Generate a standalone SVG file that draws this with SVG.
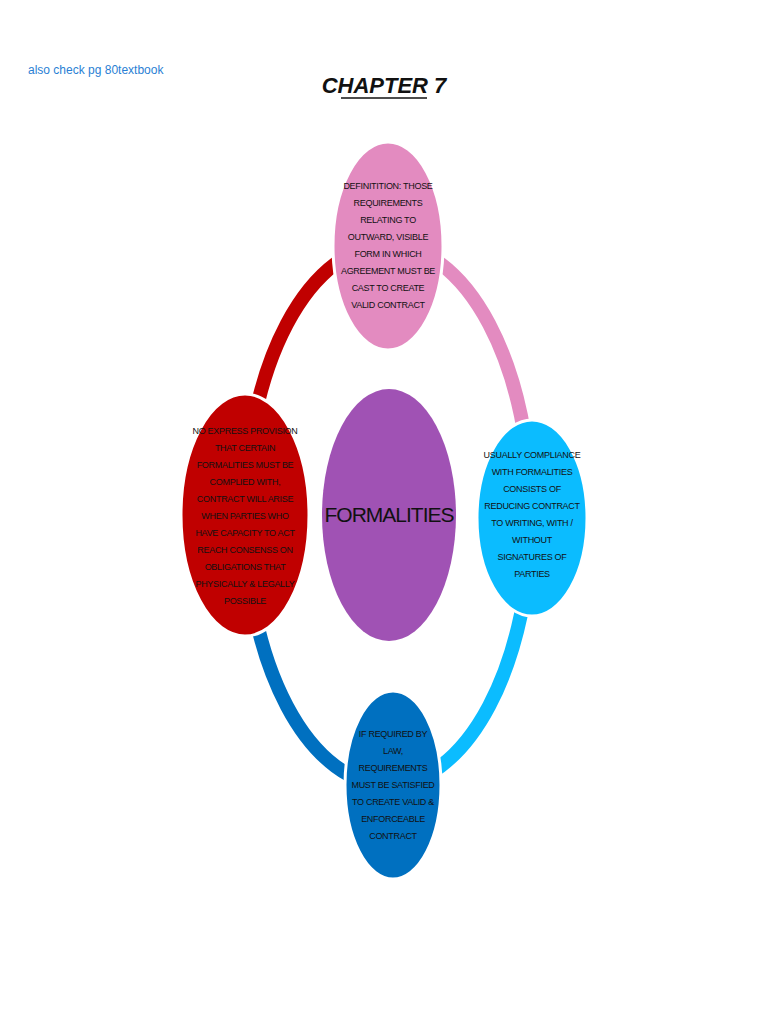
<svg xmlns="http://www.w3.org/2000/svg" width="768" height="1024" viewBox="0 0 768 1024">
<style>
.t{font-family:"Liberation Sans Narrow","Liberation Sans",Arial,sans-serif;font-size:9px;fill:#111;text-anchor:middle;letter-spacing:-0.3px}
.arc{fill:none;stroke-width:14}
</style>
<rect width="768" height="1024" fill="#fff"/>
<text x="28" y="74" font-family="Liberation Sans,Arial,sans-serif" font-size="12" fill="#2a7fd4">also check pg 80textbook</text>
<text x="384" y="93" font-family="Liberation Sans,Arial,sans-serif" font-size="22" font-weight="bold" font-style="italic" text-anchor="middle" fill="#111">CHAPTER 7</text>
<line x1="341" y1="98" x2="427" y2="98" stroke="#111" stroke-width="1.5"/>
<g id="connectors">
<path class="arc" stroke="#c00000" d="M245,515 A143,270 0 0 1 388,245"/>
<path class="arc" stroke="#e38bc0" d="M388,245 A143,270 0 0 1 531,515"/>
<path class="arc" stroke="#0bbcff" d="M531,515 A143,270 0 0 1 388,785"/>
<path class="arc" stroke="#0070c0" d="M388,785 A143,270 0 0 1 245,515"/>
</g>
<g id="center"><ellipse cx="389" cy="515" rx="67" ry="126" fill="#a052b4"/>
<text x="389" y="522" font-family="Liberation Sans,Arial,sans-serif" font-size="21" text-anchor="middle" fill="#111" letter-spacing="-1">FORMALITIES</text></g>
<g id="top"><ellipse cx="388" cy="246" rx="55" ry="104" fill="#e38bc0" stroke="#fff" stroke-width="3"/>
<text class="t"><tspan x="388" y="189">DEFINITITION: THOSE</tspan><tspan x="388" y="206">REQUIREMENTS</tspan><tspan x="388" y="223">RELATING TO</tspan><tspan x="388" y="240">OUTWARD, VISIBLE</tspan><tspan x="388" y="257">FORM IN WHICH</tspan><tspan x="388" y="274">AGREEMENT MUST BE</tspan><tspan x="388" y="291">CAST TO CREATE</tspan><tspan x="388" y="308">VALID CONTRACT</tspan></text></g>
<g id="left"><ellipse cx="245" cy="515" rx="64" ry="121" fill="#c00000" stroke="#fff" stroke-width="3"/>
<text class="t"><tspan x="245" y="434">NO EXPRESS PROVISION</tspan><tspan x="245" y="451">THAT CERTAIN</tspan><tspan x="245" y="468">FORMALITIES MUST BE</tspan><tspan x="245" y="485">COMPLIED WITH,</tspan><tspan x="245" y="502">CONTRACT WILL ARISE</tspan><tspan x="245" y="519">WHEN PARTIES WHO</tspan><tspan x="245" y="536">HAVE CAPACITY TO ACT</tspan><tspan x="245" y="553">REACH CONSENSS ON</tspan><tspan x="245" y="570">OBLIGATIONS THAT</tspan><tspan x="245" y="587">PHYSICALLY &amp; LEGALLY</tspan><tspan x="245" y="604">POSSIBLE</tspan></text></g>
<g id="right"><ellipse cx="532" cy="518" rx="55" ry="98" fill="#0bbcff" stroke="#fff" stroke-width="3"/>
<text class="t"><tspan x="532" y="458">USUALLY COMPLIANCE</tspan><tspan x="532" y="475">WITH FORMALITIES</tspan><tspan x="532" y="492">CONSISTS OF</tspan><tspan x="532" y="509">REDUCING CONTRACT</tspan><tspan x="532" y="526">TO WRITING, WITH /</tspan><tspan x="532" y="543">WITHOUT</tspan><tspan x="532" y="560">SIGNATURES OF</tspan><tspan x="532" y="577">PARTIES</tspan></text></g>
<g id="bottom"><ellipse cx="393" cy="785" rx="48" ry="94" fill="#0070c0" stroke="#fff" stroke-width="3"/>
<text class="t"><tspan x="393" y="737">IF REQUIRED BY</tspan><tspan x="393" y="754">LAW,</tspan><tspan x="393" y="771">REQUIREMENTS</tspan><tspan x="393" y="788">MUST BE SATISFIED</tspan><tspan x="393" y="805">TO CREATE VALID &amp;</tspan><tspan x="393" y="822">ENFORCEABLE</tspan><tspan x="393" y="839">CONTRACT</tspan></text></g>
</svg>
